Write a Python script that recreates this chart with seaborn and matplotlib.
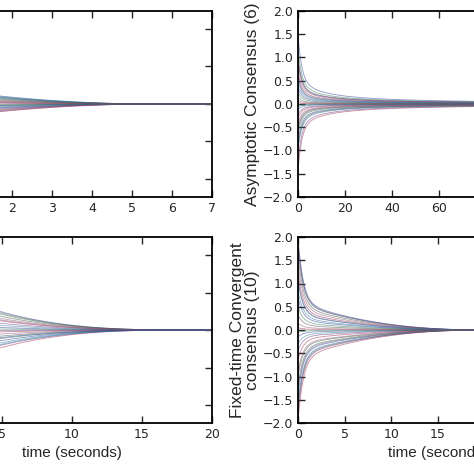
import numpy as np
import pandas as pd
import matplotlib
matplotlib.use("Agg")
import matplotlib.pyplot as plt
import seaborn as sns

sns.set_style("ticks")
plt.rcParams['font.family'] = ['DejaVu Sans']

# initial states of the agents
init_tl = [0.22, -0.21, 0.19, -0.18, 0.15, -0.14, 0.11, -0.10, 0.07, -0.06, 0.04, -0.03,
           0.20, -0.20, 0.17, -0.16, 0.13, -0.12, 0.09, -0.08, 0.05, -0.04, 0.02, -0.01]
init_tr = [1.5, -1.45, 1.2, -1.25, 1.0, -1.0, 0.85, -0.8, 0.7, -0.65, 0.55, -0.55, 0.45, -0.42,
           0.35, -0.3, 0.25, -0.22, 0.15, -0.12, 0.08, -0.06, 0.03, -0.02, 0.95, -0.9, 0.6, -0.5]
init_bl = [0.6, -0.58, 0.52, -0.5, 0.45, -0.42, 0.38, -0.35, 0.3, -0.28, 0.22, -0.2,
           0.15, -0.13, 0.08, -0.06, 0.03, -0.02, 0.56, -0.47, 0.33, -0.25]
init_br = [2.0, -2.0, 1.85, -1.8, 1.65, -1.6, 1.45, -1.4, 1.25, -1.2, 1.05, -1.0, 0.85, -0.9,
           0.7, -0.65, 0.5, -0.45, 0.32, -0.3, 0.15, -0.15, 0.05, -0.05, 1.9, -1.7, 1.1, -1.3]
settle_tl = 5.6     # finite-time convergence (s)
settle_bl = 19.0
settle_br = 21.0

colors = ['#303f9f', '#a03050', '#2f7f4f', '#6a3d8a', '#505050', '#2f7fa0', '#8a5a7a']

def build(t, inits, kind):
    rows = []
    for i, x0 in enumerate(inits):
        if kind == 'tl':
            y = x0 * np.clip(1 - t / settle_tl, 0, None) ** 2
        elif kind == 'tr':
            y = x0 * (0.6 * np.exp(-t / 1.5) + 0.4 / (1 + t / 8))
        elif kind == 'bl':
            y = x0 * np.clip(1 - t / settle_bl, 0, None) ** 3
        else:
            fast = np.exp(-t / 0.55)
            slow = np.clip(1 - t / settle_br, 0, None) ** 2.5
            y = x0 * (0.7 * fast + 0.3 * slow)
        for tt, yy in zip(t, y):
            rows.append((i, tt, yy))
    return pd.DataFrame(rows, columns=['agent', 't', 'x'])

W, H = 474, 474
fig = plt.figure(figsize=(4.74, 4.74), dpi=100)

def rect(l, t, w, h):
    return [l / W, 1 - (t + h) / H, w / W, h / H]

axes = {
    'tl': fig.add_axes(rect(-68, 11, 280, 186)),
    'tr': fig.add_axes(rect(298, 11, 280, 186)),
    'bl': fig.add_axes(rect(-68, 237, 280, 186)),
    'br': fig.add_axes(rect(298, 237, 280, 186)),
}
specs = {
    'tl': (np.linspace(0, 7, 300), init_tl, (0, 7), (-1.24, 1.24)),
    'tr': (np.linspace(0, 119, 500), init_tr, (0, 119), (-2, 2)),
    'bl': (np.linspace(0, 20, 300), init_bl, (0, 20), (-1.24, 1.24)),
    'br': (np.linspace(0, 30, 500), init_br, (0, 30), (-2, 2)),
}
for k, ax in axes.items():
    t, inits, xl, yl = specs[k]
    df = build(t, inits, k)
    pal = [colors[i % len(colors)] for i in range(len(inits))]
    sns.lineplot(data=df, x='t', y='x', hue='agent', units='agent', estimator=None,
                 palette=pal, linewidth=0.6, alpha=0.55, legend=False, ax=ax)
    ax.set_xlim(*xl)
    ax.set_ylim(*yl)
    ax.set_xlabel('')
    ax.set_ylabel('')
    ax.tick_params(direction='in', top=True, right=True, labelsize=9, length=5, width=1)
    for s in ax.spines.values():
        s.set_linewidth(1.3)
        s.set_color('black')

axes['tl'].set_yticks([-1, -0.5, 0, 0.5, 1])
axes['bl'].set_yticks([-1, -0.5, 0, 0.5, 1])
axes['tl'].set_xticks(range(0, 8))
axes['bl'].set_xticks(range(0, 21, 5))
axes['tr'].set_xticks(range(0, 120, 20))
axes['br'].set_xticks(range(0, 31, 5))
for k in ('tr', 'br'):
    axes[k].set_yticks(np.arange(-2, 2.01, 0.5))
    axes[k].set_yticklabels([f"{v:.1f}".replace('-', '\u2212') for v in np.arange(-2, 2.01, 0.5)])

fam = ['Liberation Sans', 'DejaVu Sans']
axes['tr'].set_ylabel('Asymptotic Consensus (6)', fontsize=12.5, family=fam, labelpad=2)
axes['br'].set_ylabel('Fixed-time Convergent\nconsensus (10)', fontsize=12.5, family=fam,
                      labelpad=2, linespacing=1.0)
axes['bl'].set_xlabel('time (seconds)', fontsize=11, family=fam)
axes['br'].set_xlabel('time (seconds)', fontsize=11, family=fam)

fig.savefig('out.png', dpi=100)
